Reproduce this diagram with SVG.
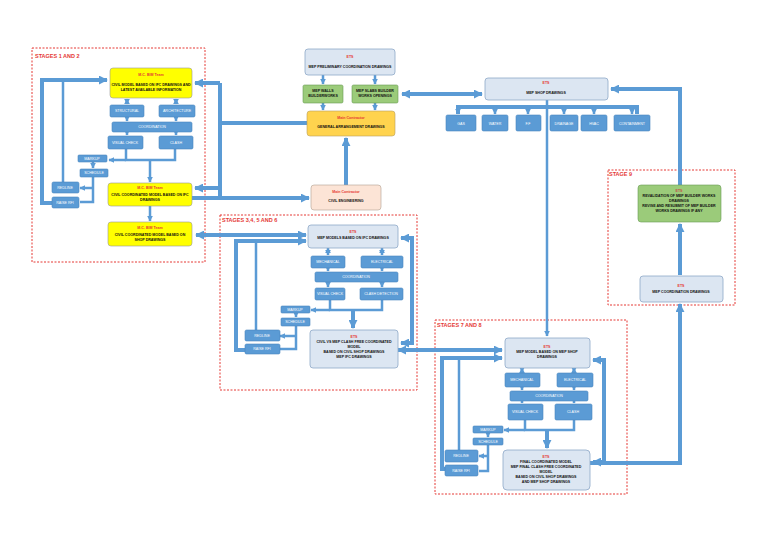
<svg xmlns="http://www.w3.org/2000/svg" width="768" height="543" viewBox="0 0 768 543">
<style>
text{font-family:"Liberation Sans",Arial,sans-serif;font-size:3.6px;font-weight:bold;text-anchor:middle}
.t{fill:#fff;font-weight:normal}
.r{fill:#e53935}
.k{fill:#111}
.stg{font-size:5.5px;fill:#e53935;text-anchor:start}
.b{fill:#5b9bd5;stroke:#4a86c0;stroke-width:0.6}
.y{fill:#ffff00;stroke:#999;stroke-width:0.6}
.e{fill:#dce6f2;stroke:#8ea8c8;stroke-width:0.8}
.g{fill:#9bcb7a;stroke:#6a9a55;stroke-width:0.6}
.o{fill:#ffd34e;stroke:#b8a060;stroke-width:0.6}
.p{fill:#fce4d6;stroke:#b0a090;stroke-width:0.6}
.d{fill:none;stroke:#e53935;stroke-width:1;stroke-dasharray:2,1.5}
.c{fill:none;stroke:#5b9bd5;stroke-width:4}
.c2{fill:none;stroke:#5b9bd5;stroke-width:2.5}
</style>
<defs>
<marker id="a" viewBox="0 0 10 10" refX="9" refY="5" markerWidth="9" markerHeight="9" markerUnits="userSpaceOnUse" orient="auto-start-reverse"><path d="M0,0L10,5L0,10z" fill="#5b9bd5"/></marker>
<marker id="s" viewBox="0 0 10 10" refX="9" refY="5" markerWidth="6" markerHeight="6" markerUnits="userSpaceOnUse" orient="auto-start-reverse"><path d="M0,0L10,5L0,10z" fill="#5b9bd5"/></marker>
</defs>
<rect width="768" height="543" fill="#fff"/>
<g id="stages">
<rect class="d" x="32" y="48" width="173" height="214"/><text class="stg" x="35" y="58">STAGES 1 AND 2</text>
<rect class="d" x="220" y="215" width="197" height="175"/><text class="stg" x="222" y="222">STAGES 3,4,  5 AND 6</text>
<rect class="d" x="435" y="320" width="192" height="174"/><text class="stg" x="437" y="327">STAGES 7 AND 8</text>
<rect class="d" x="608" y="170" width="127" height="135"/><text class="stg" x="609" y="176">STAGE 9</text>
</g>
<g id="connectors">
<!-- stage 1-2 -->
<polyline class="c" points="307,123 220,123"/>
<polyline class="c" points="220,83 220,196"/>
<line class="c" x1="220" y1="83" x2="195" y2="83" marker-end="url(#a)"/>
<line class="c" x1="220" y1="188" x2="195" y2="188" marker-end="url(#a)"/>
<line class="c" x1="192" y1="198" x2="309" y2="198" marker-end="url(#a)"/>
<line class="c" x1="196" y1="235" x2="306" y2="235" marker-start="url(#a)" marker-end="url(#a)"/>
<line class="c2" x1="127" y1="99" x2="127" y2="104" marker-start="url(#s)" marker-end="url(#s)"/>
<line class="c2" x1="176" y1="99" x2="176" y2="104" marker-start="url(#s)" marker-end="url(#s)"/>
<line class="c2" x1="127" y1="117" x2="127" y2="121" marker-end="url(#s)"/>
<line class="c2" x1="176" y1="117" x2="176" y2="121" marker-end="url(#s)"/>
<line class="c2" x1="127" y1="132" x2="127" y2="135" marker-end="url(#s)"/>
<line class="c2" x1="176" y1="132" x2="176" y2="135" marker-end="url(#s)"/>
<polyline class="c2" points="126,149 126,160 175,160 175,149"/>
<line class="c2" x1="126" y1="160" x2="109" y2="160" marker-end="url(#s)"/>
<line class="c2" x1="150" y1="160" x2="150" y2="182" marker-end="url(#s)"/>
<line class="c2" x1="93" y1="162" x2="93" y2="168" marker-end="url(#s)"/>
<polyline class="c2" points="93,177 93,202 80,202"/>
<line class="c2" x1="93" y1="188" x2="80" y2="188" marker-end="url(#s)"/>
<line class="c2" x1="150" y1="206" x2="150" y2="221" marker-end="url(#s)"/>
<polyline class="c" points="52,203 42,203 42,80 107,80" marker-end="url(#a)"/>
<polyline class="c2" points="63,183 63,80"/>
<!-- top center -->
<line class="c2" x1="323" y1="75" x2="323" y2="84" marker-end="url(#s)"/>
<line class="c2" x1="375" y1="75" x2="375" y2="84" marker-end="url(#s)"/>
<line class="c2" x1="323" y1="103" x2="323" y2="110" marker-end="url(#s)"/>
<line class="c2" x1="375" y1="103" x2="375" y2="110" marker-end="url(#s)"/>
<line class="c" x1="346" y1="185" x2="346" y2="138" marker-end="url(#a)"/>
<line class="c" x1="402" y1="94" x2="482" y2="94" marker-start="url(#a)" marker-end="url(#a)"/>
<polyline class="c" points="458,114 458,107 637,107 637,114"/>
<line class="c2" x1="458" y1="107" x2="458" y2="114" marker-end="url(#s)"/>
<line class="c2" x1="495" y1="107" x2="495" y2="114" marker-end="url(#s)"/>
<line class="c2" x1="528" y1="107" x2="528" y2="114" marker-end="url(#s)"/>
<line class="c2" x1="564" y1="107" x2="564" y2="114" marker-end="url(#s)"/>
<line class="c2" x1="594" y1="107" x2="594" y2="114" marker-end="url(#s)"/>
<line class="c2" x1="632" y1="107" x2="632" y2="114" marker-end="url(#s)"/>
<line class="c2" x1="547" y1="100" x2="547" y2="336" marker-end="url(#s)"/>
<polyline class="c" points="680,185 680,89 611,89" marker-end="url(#a)"/>
<line class="c" x1="680" y1="275" x2="680" y2="224" marker-end="url(#a)"/>
<polyline class="c" points="590,463 680,463 680,304" marker-end="url(#a)"/>
<!-- stage 3-6 -->
<line class="c2" x1="328" y1="248" x2="328" y2="255" marker-start="url(#s)" marker-end="url(#s)"/>
<line class="c2" x1="382" y1="248" x2="382" y2="255" marker-start="url(#s)" marker-end="url(#s)"/>
<line class="c2" x1="328" y1="268" x2="328" y2="271" marker-end="url(#s)"/>
<line class="c2" x1="382" y1="268" x2="382" y2="271" marker-end="url(#s)"/>
<line class="c2" x1="328" y1="282" x2="328" y2="287" marker-end="url(#s)"/>
<line class="c2" x1="382" y1="282" x2="382" y2="287" marker-end="url(#s)"/>
<polyline class="c2" points="330,300 330,310 382,310 382,300"/>
<line class="c2" x1="330" y1="310" x2="311" y2="310" marker-end="url(#s)"/>
<line class="c" x1="353" y1="310" x2="353" y2="328" marker-end="url(#a)"/>
<line class="c2" x1="296" y1="313" x2="296" y2="317" marker-end="url(#s)"/>
<polyline class="c2" points="296,326 296,349 280,349"/>
<line class="c2" x1="296" y1="336" x2="280" y2="336" marker-end="url(#s)"/>
<polyline class="c" points="245,350 236,350 236,241 306,241" marker-end="url(#a)"/>
<polyline class="c2" points="256,330 256,241"/>
<polyline class="c" points="401,238 412,238 412,343 401,343" marker-start="url(#a)" marker-end="url(#a)"/>
<line class="c" x1="398" y1="350" x2="502" y2="350" marker-start="url(#a)" marker-end="url(#a)"/>
<!-- stage 7-8 -->
<line class="c2" x1="522" y1="368" x2="522" y2="372" marker-start="url(#s)" marker-end="url(#s)"/>
<line class="c2" x1="574" y1="368" x2="574" y2="372" marker-start="url(#s)" marker-end="url(#s)"/>
<line class="c2" x1="522" y1="387" x2="522" y2="390" marker-end="url(#s)"/>
<line class="c2" x1="574" y1="387" x2="574" y2="390" marker-end="url(#s)"/>
<line class="c2" x1="522" y1="401" x2="522" y2="403" marker-end="url(#s)"/>
<line class="c2" x1="574" y1="401" x2="574" y2="403" marker-end="url(#s)"/>
<polyline class="c2" points="525,420 525,430 574,430 574,420"/>
<line class="c2" x1="525" y1="430" x2="504" y2="430" marker-end="url(#s)"/>
<line class="c" x1="547" y1="430" x2="547" y2="448" marker-end="url(#a)"/>
<line class="c2" x1="488" y1="433" x2="488" y2="437" marker-end="url(#s)"/>
<polyline class="c2" points="488,445 488,471 479,471"/>
<line class="c2" x1="488" y1="456" x2="479" y2="456" marker-end="url(#s)"/>
<polyline class="c" points="445,469 442,469 442,358 502,358" marker-end="url(#a)"/>
<polyline class="c2" points="459,450 459,358"/>
<polyline class="c" points="593,360 604,360 604,462 593,462" marker-start="url(#a)" marker-end="url(#a)"/>
</g>
<g id="n-a"><rect class="y" x="110" y="68" width="82" height="30" rx="3"/><text class="r" x="151" y="76">M.C. BIM Team</text><text class="k" x="151" y="86">CIVIL MODEL BASED ON IFC DRAWINGS AND</text><text class="k" x="151" y="91">LATEST AVAILABLE INFORMATION</text></g>
<g id="n-str"><rect class="b" x="110" y="105" width="34" height="12" rx="1.5"/><text class="t" x="127" y="112">STRUCTURAL</text></g>
<g id="n-arc"><rect class="b" x="159" y="105" width="36" height="12" rx="1.5"/><text class="t" x="177" y="112">ARCHITECTURE</text></g>
<g id="n-co1"><rect class="b" x="112" y="122" width="80" height="10" rx="1.5"/><text class="t" x="152" y="128">COORDINATION</text></g>
<g id="n-vc1"><rect class="b" x="108" y="136" width="35" height="13" rx="1.5"/><text class="t" x="125" y="144">VISUAL CHECK</text></g>
<g id="n-cl1"><rect class="b" x="159" y="136" width="34" height="13" rx="1.5"/><text class="t" x="176" y="144">CLASH</text></g>
<g id="n-mk1"><rect class="b" x="78" y="155" width="29" height="7" rx="1"/><text class="t" x="92" y="160">MARKUP</text></g>
<g id="n-sc1"><rect class="b" x="80" y="169" width="28" height="8" rx="1"/><text class="t" x="94" y="174">SCHEDULE</text></g>
<g id="n-rl1"><rect class="b" x="52" y="182" width="27" height="11" rx="1.5"/><text class="t" x="65" y="189">REDLINE</text></g>
<g id="n-rf1"><rect class="b" x="52" y="197" width="27" height="11" rx="1.5"/><text class="t" x="65" y="204">RAISE RFI</text></g>
<g id="n-b"><rect class="y" x="108" y="183" width="84" height="23" rx="3"/><text class="r" x="150" y="189">M.C. BIM Team</text><text class="k" x="150" y="196">CIVIL COORDINATED MODEL BASED ON IFC</text><text class="k" x="150" y="201">DRAWINGS</text></g>
<g id="n-c"><rect class="y" x="108" y="222" width="84" height="24" rx="3"/><text class="r" x="150" y="229">M.C. BIM Team</text><text class="k" x="150" y="236">CIVIL COORDINATED MODEL BASED ON</text><text class="k" x="150" y="241">SHOP DRAWINGS</text></g>
<g id="n-pre"><rect class="e" x="305" y="49" width="90" height="26" rx="3"/><text class="r" x="350" y="58">ETS</text><text class="k" x="350" y="68">MEP PRELIMINARY COORDINATION DRAWINGS</text></g>
<g id="n-g1"><rect class="g" x="303" y="85" width="40" height="18" rx="1.5"/><text class="k" x="323" y="92">MEP WALLS</text><text class="k" x="323" y="97">BUILDERWORKS</text></g>
<g id="n-g2"><rect class="g" x="352" y="85" width="46" height="18" rx="1.5"/><text class="k" x="375" y="92">MEP SLABS BUILDER</text><text class="k" x="375" y="97">WORKS OPENINGS</text></g>
<g id="n-ga"><rect class="o" x="307" y="111" width="88" height="25" rx="3"/><text class="r" x="351" y="119">Main Contractor</text><text class="k" x="351" y="128">GENERAL ARRANGEMENT DRAWINGS</text></g>
<g id="n-ce"><rect class="p" x="311" y="185" width="70" height="25" rx="3"/><text class="r" x="346" y="193">Main Contractor</text><text class="k" x="346" y="202">CIVIL ENGINEERING</text></g>
<g id="n-shop"><rect class="e" x="485" y="78" width="123" height="22" rx="3"/><text class="r" x="546" y="84">ETS</text><text class="k" x="546" y="94">MEP SHOP DRAWINGS</text></g>
<g id="n-gas"><rect class="b" x="446" y="115" width="30" height="16" rx="1.5"/><text class="t" x="461" y="125">GAS</text></g>
<g id="n-wat"><rect class="b" x="482" y="115" width="26" height="16" rx="1.5"/><text class="t" x="495" y="125">WATER</text></g>
<g id="n-ff"><rect class="b" x="516" y="115" width="25" height="16" rx="1.5"/><text class="t" x="528" y="125">F.F</text></g>
<g id="n-dr"><rect class="b" x="550" y="115" width="28" height="16" rx="1.5"/><text class="t" x="564" y="125">DRAINAGE</text></g>
<g id="n-hv"><rect class="b" x="581" y="115" width="26" height="16" rx="1.5"/><text class="t" x="594" y="125">HVAC</text></g>
<g id="n-ct"><rect class="b" x="614" y="115" width="36" height="16" rx="1.5"/><text class="t" x="632" y="125">CONTAINMENT</text></g>
<g id="n-m3"><rect class="e" x="308" y="225" width="90" height="23" rx="3"/><text class="r" x="353" y="233">ETS</text><text class="k" x="353" y="239">MEP MODELS BASED ON IFC DRAWINGS</text></g>
<g id="n-me3"><rect class="b" x="311" y="256" width="34" height="12" rx="1.5"/><text class="t" x="328" y="263">MECHANICAL</text></g>
<g id="n-el3"><rect class="b" x="361" y="256" width="42" height="12" rx="1.5"/><text class="t" x="382" y="263">ELECTRICAL</text></g>
<g id="n-co3"><rect class="b" x="315" y="272" width="83" height="10" rx="1.5"/><text class="t" x="356" y="278">COORDINATION</text></g>
<g id="n-vc3"><rect class="b" x="315" y="288" width="30" height="12" rx="1.5"/><text class="t" x="330" y="295">VISUAL CHECK</text></g>
<g id="n-cd3"><rect class="b" x="360" y="288" width="43" height="12" rx="1.5"/><text class="t" x="381" y="295">CLASH DETECTION</text></g>
<g id="n-mk3"><rect class="b" x="281" y="306" width="29" height="7" rx="1"/><text class="t" x="295" y="311">MARKUP</text></g>
<g id="n-sc3"><rect class="b" x="281" y="318" width="29" height="8" rx="1"/><text class="t" x="295" y="323">SCHEDULE</text></g>
<g id="n-rl3"><rect class="b" x="245" y="330" width="35" height="11" rx="1.5"/><text class="t" x="262" y="337">REDLINE</text></g>
<g id="n-rf3"><rect class="b" x="245" y="344" width="35" height="10" rx="1.5"/><text class="t" x="262" y="350">RAISE RFI</text></g>
<g id="n-cv3"><rect class="e" x="310" y="330" width="88" height="38" rx="3"/><text class="r" x="354" y="338">ETS</text><text class="k" x="354" y="343">CIVIL VS MEP CLASH  FREE COORDINATED</text><text class="k" x="354" y="348">MODEL</text><text class="k" x="354" y="353">BASED ON CIVIL SHOP DRAWINGS</text><text class="k" x="354" y="358">MEP IFC DRAWINGS</text></g>
<g id="n-m7"><rect class="e" x="505" y="338" width="85" height="30" rx="3"/><text class="r" x="547" y="348">ETS</text><text class="k" x="547" y="353">MEP MODEL BASED ON MEP SHOP</text><text class="k" x="547" y="358">DRAWINGS</text></g>
<g id="n-me7"><rect class="b" x="505" y="373" width="35" height="14" rx="1.5"/><text class="t" x="522" y="381">MECHANICAL</text></g>
<g id="n-el7"><rect class="b" x="557" y="373" width="36" height="14" rx="1.5"/><text class="t" x="575" y="381">ELECTRICAL</text></g>
<g id="n-co7"><rect class="b" x="510" y="391" width="78" height="10" rx="1.5"/><text class="t" x="549" y="397">COORDINATION</text></g>
<g id="n-vc7"><rect class="b" x="508" y="404" width="35" height="16" rx="1.5"/><text class="t" x="525" y="413">VISUAL CHECK</text></g>
<g id="n-cl7"><rect class="b" x="555" y="404" width="37" height="16" rx="1.5"/><text class="t" x="573" y="413">CLASH</text></g>
<g id="n-mk7"><rect class="b" x="473" y="426" width="30" height="7" rx="1"/><text class="t" x="488" y="431">MARKUP</text></g>
<g id="n-sc7"><rect class="b" x="473" y="438" width="30" height="7" rx="1"/><text class="t" x="488" y="443">SCHEDULE</text></g>
<g id="n-rl7"><rect class="b" x="445" y="450" width="33" height="12" rx="1.5"/><text class="t" x="461" y="457">REDLINE</text></g>
<g id="n-rf7"><rect class="b" x="445" y="465" width="33" height="11" rx="1.5"/><text class="t" x="461" y="472">RAISE RFI</text></g>
<g id="n-f7"><rect class="e" x="503" y="450" width="87" height="40" rx="4"/><text class="r" x="546" y="458">ETS</text><text class="k" x="546" y="463">FINAL COORDINATED MODEL</text><text class="k" x="546" y="468">MEP FINAL CLASH  FREE COORDINATED</text><text class="k" x="546" y="473">MODEL</text><text class="k" x="546" y="478">BASED ON CIVIL SHOP DRAWINGS</text><text class="k" x="546" y="483">AND MEP  SHOP DRAWINGS</text></g>
<g id="n-rev"><rect class="g" x="638" y="185" width="83" height="37" rx="3"/><text class="r" x="679" y="192" style="fill:#c0504d">ETS</text><text class="k" x="679" y="197">REVALIDATION OF MEP BUILDER WORKS</text><text class="k" x="679" y="202">DRAWINGS</text><text class="k" x="679" y="207">REVISE AND RESUBMIT OF MEP BUILDER</text><text class="k" x="679" y="212">WORKS DRAWINGS  IF ANY</text></g>
<g id="n-mc9"><rect class="e" x="640" y="276" width="83" height="26" rx="3"/><text class="r" x="681" y="287">ETS</text><text class="k" x="681" y="293">MEP COORDINATION DRAWINGS</text></g>
</svg>
